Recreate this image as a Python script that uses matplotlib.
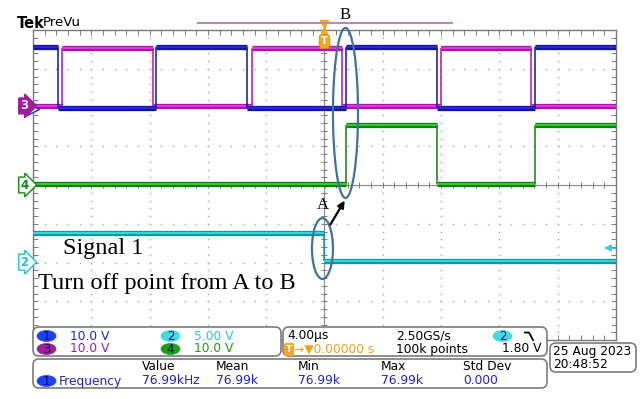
import numpy as np
import matplotlib
matplotlib.use("Agg")
import matplotlib.pyplot as plt
from matplotlib.patches import Ellipse, FancyBboxPatch, Polygon
from matplotlib.lines import Line2D
from matplotlib.transforms import Affine2D

# ---------------- data ----------------
time_per_div_us = 4.0
n_hdiv = 10
n_vdiv = 8

ch1_scale_v, ch2_scale_v, ch3_scale_v, ch4_scale_v = 10.0, 5.0, 10.0, 10.0
ch1_pos_div, ch2_pos_div, ch3_pos_div, ch4_pos_div = 2.04, -1.99, 2.04, 0.0

ch1_edges_us = [-18.28, -11.56, -5.32, 1.48, 7.70, 14.44]
ch1_levels_v = [15.3, -0.4, 15.3, -0.4, 15.3, -0.4, 15.3]
ch3_edges_us = [-18.03, -11.79, -5.00, 1.18, 7.97, 14.17]
ch3_levels_v = [0.1, 15.0, 0.1, 15.0, 0.1, 15.0, 0.1]
ch4_edges_us = [1.48, 7.70, 14.44]
ch4_levels_v = [0.3, 15.5, 0.3, 15.5]
ch2_edges_us = [0.0]
ch2_levels_v = [3.7, 0.2]
trigger_level_v = 1.80

chan_labels = ["1", "2", "3", "4"]
chan_scales_txt = ["10.0 V", "5.00 V", "10.0 V", "10.0 V"]
meas_headers = ["Value", "Mean", "Min", "Max", "Std Dev"]
meas_values = ["76.99kHz", "76.99k", "76.99k", "76.99k", "0.000"]

# ---------------- figure ----------------
W, H = 640, 399
fig = plt.figure(figsize=(W / 100, H / 100), dpi=100)
fig.patch.set_facecolor("white")
PX = Affine2D().scale(1.0 / W, -1.0 / H).translate(0, 1) + fig.transFigure

ax = fig.add_axes([33 / W, (H - 340) / H, 583 / W, 310 / H])
half_t = time_per_div_us * n_hdiv / 2
ax.set_xlim(-half_t, half_t)
ax.set_ylim(-n_vdiv / 2, n_vdiv / 2)
ax.set_facecolor("white")
for s in ax.spines.values():
    s.set_color("#7a7a7a")
    s.set_linewidth(1.0)
ax.set_xticks(np.arange(-half_t, half_t + 0.01, time_per_div_us / 5))
ax.set_yticks(np.arange(-n_vdiv / 2, n_vdiv / 2 + 0.01, 0.2))
ax.tick_params(direction="in", length=3.5, width=0.7, color="#7a7a7a",
               top=True, right=True, labelbottom=False, labelleft=False)

gridc = "#a4a4a4"
major_x = [x for x in np.arange(-half_t + time_per_div_us, half_t, time_per_div_us) if abs(x) > 1e-9]
major_y = [y for y in np.arange(-n_vdiv / 2 + 1, n_vdiv / 2, 1.0) if abs(y) > 1e-9]
minor_y = np.arange(-n_vdiv / 2, n_vdiv / 2 + 0.01, 0.2)
minor_x = np.arange(-half_t, half_t + 0.01, time_per_div_us / 5)
for x in major_x:
    ax.plot(np.full_like(minor_y, x), minor_y, ls="none", marker="s", ms=1.0, mew=0, color=gridc, zorder=1)
for y in major_y:
    ax.plot(minor_x, np.full_like(minor_x, y), ls="none", marker="s", ms=1.0, mew=0, color=gridc, zorder=1)
ax.axhline(0, color="#8a8a8a", lw=0.8, zorder=1)
ax.axvline(0, color="#8a8a8a", lw=0.8, zorder=1)
ax.plot(np.zeros_like(minor_y), minor_y, ls="none", marker="_", ms=4.5, mew=0.7, color="#7a7a7a", zorder=1)
ax.plot(minor_x, np.zeros_like(minor_x), ls="none", marker="|", ms=4.5, mew=0.7, color="#7a7a7a", zorder=1)


def draw_channel(edges, levels, scale, pos, band, core, z):
    bounds = [-half_t] + list(edges) + [half_t]
    ys = [pos + v / scale for v in levels]
    for i in range(len(ys)):
        ax.hlines(ys[i], bounds[i], bounds[i + 1], color=band, lw=3.8, zorder=z)
        ax.hlines(ys[i], bounds[i], bounds[i + 1], color=core, lw=1.4, zorder=z + 0.1)
    for i, e in enumerate(edges):
        ax.vlines(e, ys[i], ys[i + 1], color=band, lw=1.1, zorder=z)


draw_channel(ch3_edges_us, ch3_levels_v, ch3_scale_v, ch3_pos_div, "#b012b0", "#e23ae2", 3)
draw_channel(ch1_edges_us, ch1_levels_v, ch1_scale_v, ch1_pos_div, "#14149e", "#2a2ad6", 3.5)
draw_channel(ch4_edges_us, ch4_levels_v, ch4_scale_v, ch4_pos_div, "#0f7f0f", "#34cc34", 3)
draw_channel(ch2_edges_us, ch2_levels_v, ch2_scale_v, ch2_pos_div, "#0c9aa0", "#3ad6dc", 3)

# trigger level marker (right)
trig_y = ch2_pos_div + trigger_level_v / ch2_scale_v
ax.plot([19.45], [trig_y], marker="<", ms=6, color="#35d0e0", mew=0, zorder=5)
ax.plot([19.45, 19.9], [trig_y, trig_y], color="#35d0e0", lw=1.0, zorder=5)

# channel ground markers (left)
yax = ax.get_yaxis_transform()
def badge(txt, ypos, fc, ec, tc, dy=0.0):
    ax.annotate(txt, xy=(0, ypos), xycoords=yax, xytext=(-6.3, dy), textcoords="offset points",
                ha="center", va="center", fontsize=8.5, fontweight="bold", color=tc,
                bbox=dict(boxstyle="rarrow,pad=0.12", fc=fc, ec=ec, lw=1.0),
                annotation_clip=False, zorder=6)

# channel 1 marker mostly hidden beneath channel 3 marker: outline only
ax.plot([-0.0], [ch1_pos_div - 0.08], transform=yax, marker=">", ms=9, mfc="white", mec="#2a2ad6",
        mew=1.0, clip_on=False, zorder=5.5)
badge("3", ch3_pos_div, "#9c1c9c", "#9c1c9c", "#f0e0f0")
badge("4", ch4_pos_div, "white", "#128a12", "#128a12")
badge("2", ch2_pos_div, "white", "#22c0cc", "#22c0cc")

# annotations
steel = "#41719c"
ax.add_patch(Ellipse((1.44, 1.86), 1.72, 4.39, fill=False, ec=steel, lw=1.6, zorder=8, clip_on=False))
ax.add_patch(Ellipse((-0.14, -1.64), 1.44, 1.57, fill=False, ec=steel, lw=1.6, zorder=8, clip_on=False))
ax.annotate("", xy=(1.48, -0.34), xytext=(0.31, -1.08),
            arrowprops=dict(arrowstyle="-|>", color="black", lw=1.6, mutation_scale=10), zorder=9)
serif = "Liberation Serif"
ax.text(-0.14, -0.52, "A", family=serif, fontsize=12, ha="center", va="center", zorder=9)
ax.text(1.41, 4.39, "B", family=serif, fontsize=12, ha="center", va="center", zorder=9, clip_on=False)
ax.text(-17.94, -1.65, "Signal 1", family=serif, fontsize=17.5, ha="left", va="center", zorder=9)
ax.text(-19.66, -2.53, "Turn off point from A to B", family=serif, fontsize=17.5, ha="left", va="center", zorder=9)

# top bar
fig.text(17, 23, "Tek", transform=PX, fontsize=10.5, fontweight="bold", ha="left", va="center")
fig.text(43, 23, "PreVu", transform=PX, fontsize=9.5, ha="left", va="center")
fig.add_artist(Line2D([198, 452], [22.7, 22.7], transform=PX, color="#b88ab8", lw=1.5))
xt = ax.get_xaxis_transform()
ax.plot([0], [1.02], marker="v", ms=6, color="#f5a623", transform=xt, clip_on=False, zorder=10)
ax.plot([0], [1.0], marker="^", ms=5, color="#f5a623", transform=xt, clip_on=False, zorder=10)
ax.text(0, 0.963, "T", transform=xt, ha="center", va="center", fontsize=7, fontweight="bold", color="white",
        bbox=dict(boxstyle="round,pad=0.2,rounding_size=0.3", fc="#f5a623", ec="#e08a00", lw=0.6), zorder=10)

# ---------------- bottom panels ----------------
edge = "#7c7c7c"
def box(x, y, w, h):
    p = FancyBboxPatch((x, y), w, h, boxstyle="round,pad=0,rounding_size=6", transform=PX,
                       fc="white", ec=edge, lw=1.2, zorder=1)
    fig.add_artist(p)

box(33, 327, 248, 29)
box(283, 327, 264, 29)
box(33, 359, 514, 29)
box(550, 343, 86, 29)

FS = 8.8
blue_txt = "#2424c4"
def pill(cx, cy, fc, txt):
    e = Ellipse((cx, cy), 19, 11, transform=PX, fc=fc, ec=fc, lw=0.5, zorder=2)
    fig.add_artist(e)
    fig.text(cx, cy + 0.5, txt, transform=PX, ha="center", va="center", fontsize=8.5, color="#101050", zorder=4)

chan_badge_fc = ["#2040ff", "#40dce4", "#9c209c", "#18a018"]
chan_txt_c = [blue_txt, "#28c8d0", "#a020a0", "#18a018"]
badge_xy = [(46.5, 336), (170.5, 336), (46.5, 349), (170.5, 349)]
for i in range(4):
    bx, by = badge_xy[i]
    pill(bx, by, chan_badge_fc[i], chan_labels[i])
    fig.text(bx + 23.5, by, chan_scales_txt[i], transform=PX, ha="left", va="center", fontsize=FS, color=chan_txt_c[i])

fig.text(287, 336, "4.00\u00b5s", transform=PX, ha="left", va="center", fontsize=FS)
fig.text(396, 336, "2.50GS/s", transform=PX, ha="left", va="center", fontsize=FS)
pill(502.5, 336, "#40dce4", "2")
fig.add_artist(Line2D([525, 529, 533], [332.5, 332.5, 340], transform=PX, color="black", lw=1.3))
fig.text(289, 349.5, "T", transform=PX, ha="center", va="center", fontsize=6.5, fontweight="bold", color="white",
         bbox=dict(boxstyle="round,pad=0.15,rounding_size=0.2", fc="#f5a623", ec="#f5a623"), zorder=4)
fig.text(294, 349, "\u2192\u25bc0.00000 s", transform=PX, ha="left", va="center", fontsize=FS, color="#f0a020")
fig.text(396, 349, "100k points", transform=PX, ha="left", va="center", fontsize=FS)
fig.text(541, 349, "1.80 V", transform=PX, ha="right", va="center", fontsize=FS)

fig.text(553, 352, "25 Aug 2023", transform=PX, ha="left", va="center", fontsize=FS)
fig.text(553, 364.5, "20:48:52", transform=PX, ha="left", va="center", fontsize=FS)

col_x = [142, 216, 298, 381, 463]
for cx, hdr, val in zip(col_x, meas_headers, meas_values):
    fig.text(cx, 366, hdr, transform=PX, ha="left", va="center", fontsize=FS)
    fig.text(cx, 381, val, transform=PX, ha="left", va="center", fontsize=FS, color=blue_txt)
pill(46.5, 381, "#2040ff", "1")
fig.text(59, 381, "Frequency", transform=PX, ha="left", va="center", fontsize=FS, color=blue_txt)

fig.savefig("out.png", dpi=100)
